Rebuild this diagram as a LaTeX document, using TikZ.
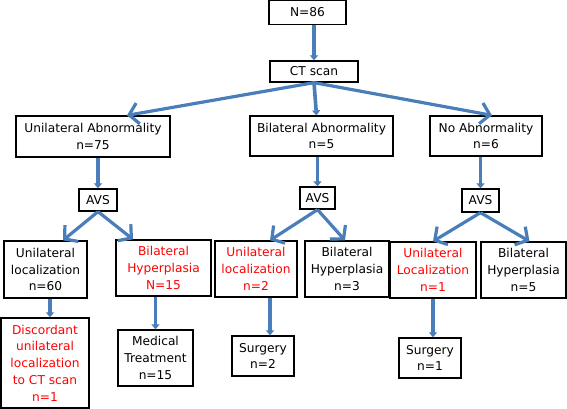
\documentclass[tikz,border=0pt]{standalone}
\usepackage{fontspec}
\setmainfont{DejaVu Sans}
\usetikzlibrary{arrows.meta}
\definecolor{arrblue}{RGB}{74,126,187}
\definecolor{txtred}{RGB}{255,0,0}
\begin{document}
\begin{tikzpicture}[x=1pt,y=-1pt,
 box/.style={draw=black,line width=1.3pt,fill=white,inner sep=0pt,align=center,font=\fontsize{12.2}{16.7}\selectfont},
 redbox/.style={box,text=txtred},
 varr/.style={draw=arrblue,line width=3.6pt,-{Triangle[length=5pt,width=8pt]}},
 darr/.style={draw=arrblue,line width=3.2pt,-{Straight Barb[length=9pt,width=21pt]}}
]
\useasboundingbox (0,0) rectangle (567,409);
% level 0-1
\node[box,minimum width=77pt,minimum height=24pt] (n86) at (307.5,12.5) {N=86};
\node[box,minimum width=88pt,minimum height=21pt] (ct) at (314,71.5) {CT scan};
% level 2
\node[box,minimum width=154pt,minimum height=41pt] (ua) at (93,136.5) {Unilateral Abnormality\\n=75};
\node[box,minimum width=143pt,minimum height=40pt] (ba) at (321.5,136) {Bilateral Abnormality\\n=5};
\node[box,minimum width=112pt,minimum height=40pt] (na) at (486,136) {No Abnormality\\n=6};
% AVS
\node[box,minimum width=38pt,minimum height=22pt] (avs1) at (98,200) {AVS};
\node[box,minimum width=35pt,minimum height=22pt] (avs2) at (317.5,198) {AVS};
\node[box,minimum width=37pt,minimum height=23pt] (avs3) at (480.5,200.5) {AVS};
% level 4
\node[box,minimum width=83pt,minimum height=57pt] (ul60) at (45.5,269.5) {Unilateral\\localization\\n=60};
\node[redbox,minimum width=95pt,minimum height=56pt] (bh15) at (163.5,268) {Bilateral\\Hyperplasia\\N=15};
\node[redbox,minimum width=82pt,minimum height=56pt] (ul2) at (256,269) {Unilateral\\localization\\n=2};
\node[box,minimum width=84pt,minimum height=56pt] (bh3) at (347,269) {Bilateral\\Hyperplasia\\n=3};
\node[redbox,minimum width=86pt,minimum height=56pt] (ul1) at (433,270) {Unilateral\\Localization\\n=1};
\node[box,minimum width=85pt,minimum height=56pt] (bh5) at (523.5,270) {Bilateral\\Hyperplasia\\n=5};
% level 5
\node[redbox,minimum width=88pt,minimum height=90pt] (disc) at (45,363) {Discordant\\unilateral\\localization\\to CT scan\\n=1};
\node[box,minimum width=75pt,minimum height=56pt] (med) at (155.5,358) {Medical\\Treatment\\n=15};
\node[box,minimum width=62pt,minimum height=40pt] (surg2) at (263,356) {Surgery\\n=2};
\node[box,minimum width=62pt,minimum height=40pt] (surg1) at (430,358) {Surgery\\n=1};
% arrows
\draw[varr] (ct.north |- n86.south) -- (ct.north);
\draw[darr] (ct.south) -- ([xshift=34pt]ua.north);
\draw[varr] (ct.south) -- ([xshift=-5pt]ba.north);
\draw[darr] (ct.south) -- ([xshift=6pt]na.north);
\draw[varr] (avs1.north |- ua.south) -- (avs1.north);
\draw[varr] (avs2.north |- ba.south) -- (avs2.north);
\draw[varr] (avs3.north |- na.south) -- (avs3.north);
\draw[darr] (avs1.south) -- ([xshift=17.5pt]ul60.north);
\draw[darr] (avs1.south) -- ([xshift=-30.5pt]bh15.north);
\draw[darr] (avs2.south) -- ([xshift=14pt]ul2.north);
\draw[darr] (avs2.south) -- ([xshift=-2pt]bh3.north);
\draw[darr] (avs3.south) -- (ul1.north);
\draw[darr] (avs3.south) -- ([xshift=6pt]bh5.north);
\draw[varr] ([xshift=4.5pt]ul60.south) -- ([xshift=4.5pt]ul60.south |- disc.north);
\draw[varr] (bh15.south -| med.north) -- (med.north);
\draw[varr] ([xshift=14pt]ul2.south) -- ([xshift=14pt]ul2.south |- surg2.north);
\draw[varr] (ul1.south) -- (ul1.south |- surg1.north);
\end{tikzpicture}
\end{document}
